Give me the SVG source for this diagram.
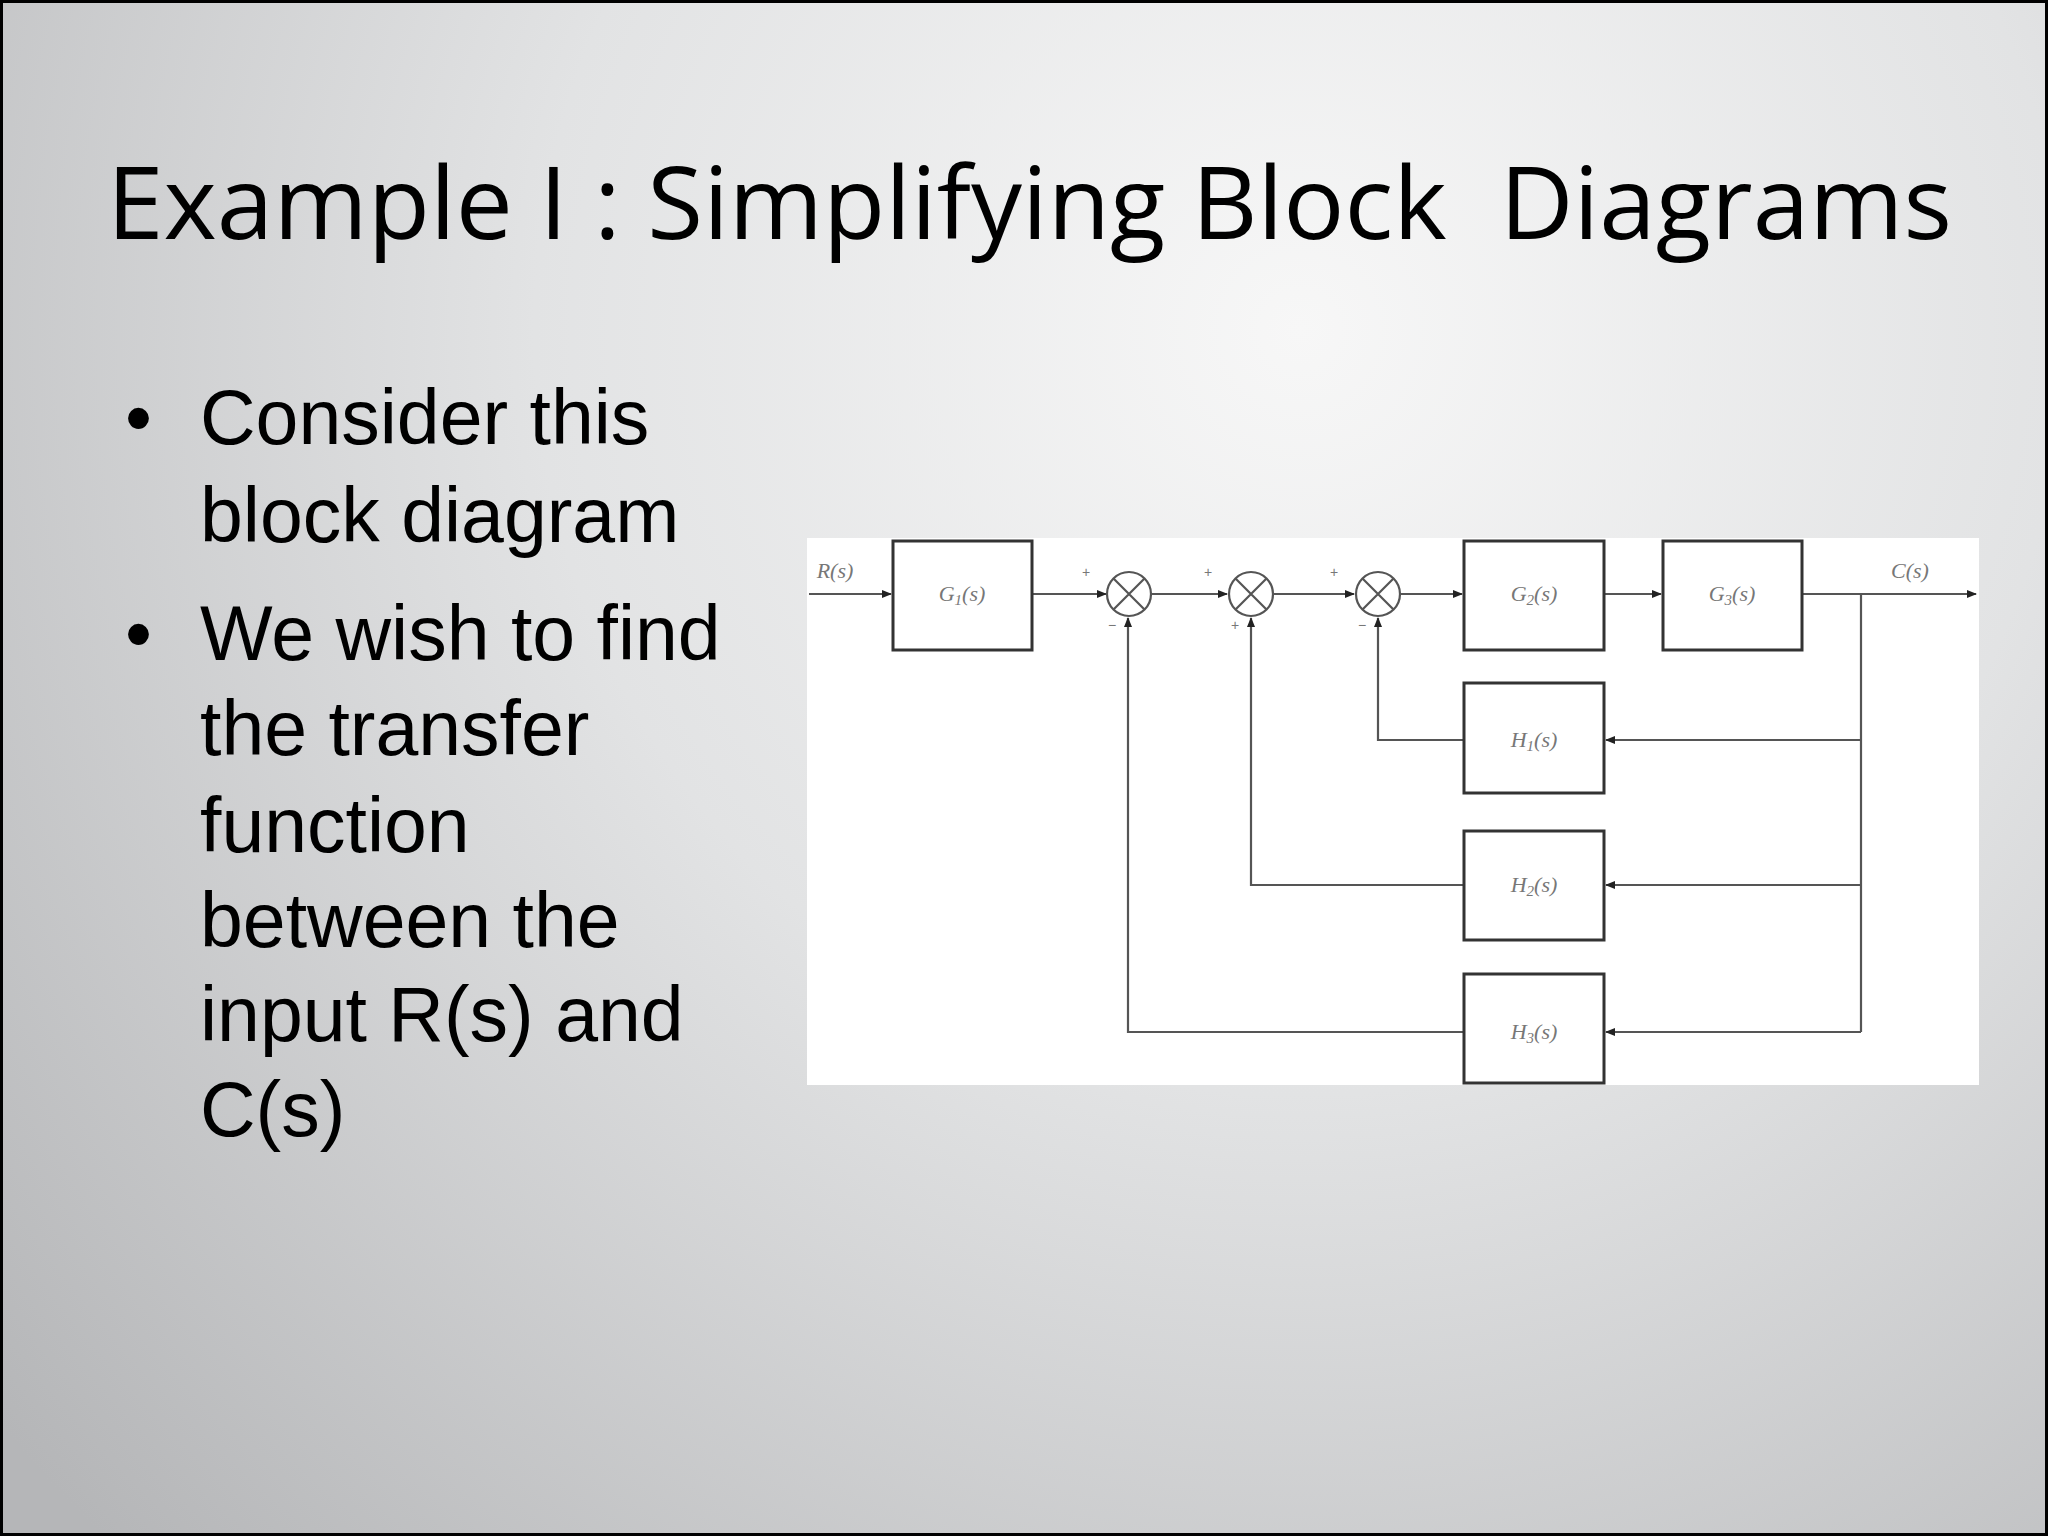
<svg xmlns="http://www.w3.org/2000/svg" width="2048" height="1536" viewBox="0 0 2048 1536">
<defs>
<radialGradient id="bg" cx="1300" cy="330" r="1700" gradientUnits="userSpaceOnUse">
<stop offset="0" stop-color="#f7f7f7"/><stop offset="0.45" stop-color="#e2e3e4"/><stop offset="1" stop-color="#b5b6b8"/>
</radialGradient>
<marker id="ah" viewBox="0 0 10 10" refX="9" refY="5" markerWidth="10" markerHeight="10" markerUnits="userSpaceOnUse" orient="auto"><path d="M0,1 L10,5 L0,9 z" fill="#222"/></marker>
<style>
.txt{font-family:"Liberation Sans",Arial,sans-serif;fill:#000}
.blk{fill:#fff;stroke:#333;stroke-width:3}
.ln{fill:none;stroke:#555;stroke-width:2.2}
.lbl{font-family:"Liberation Serif",serif;font-style:italic;font-size:22px;fill:#777;text-anchor:middle}
.sg{font-family:"Liberation Sans",sans-serif;font-size:14px;fill:#777}
</style>
</defs>
<rect x="0" y="0" width="2048" height="1536" fill="url(#bg)"/>
<rect x="1.5" y="1.5" width="2045" height="1533" fill="none" stroke="#000" stroke-width="3"/>
<text class="txt" x="107" y="239" font-size="100" textLength="1845" lengthAdjust="spacingAndGlyphs" style="font-family:'Open Sans',sans-serif" xml:space="preserve">Example I : Simplifying Block  Diagrams</text>
<g class="txt" font-size="77">
<text x="125" y="444">•</text>
<text x="200" y="444">Consider this</text>
<text x="200" y="542">block diagram</text>
<text x="125" y="660">•</text>
<text x="200" y="660">We wish to find</text>
<text x="200" y="755">the transfer</text>
<text x="200" y="852">function</text>
<text x="200" y="947">between the</text>
<text x="200" y="1041">input R(s) and</text>
<text x="200" y="1136">C(s)</text>
</g>
<rect x="807" y="538" width="1172" height="547" fill="#fff"/>
<g id="connectors">
<line class="ln" x1="809" y1="594" x2="891" y2="594" marker-end="url(#ah)"/>
<line class="ln" x1="1032" y1="594" x2="1106" y2="594" marker-end="url(#ah)"/>
<line class="ln" x1="1152" y1="594" x2="1227" y2="594" marker-end="url(#ah)"/>
<line class="ln" x1="1273" y1="594" x2="1354" y2="594" marker-end="url(#ah)"/>
<line class="ln" x1="1400" y1="594" x2="1462" y2="594" marker-end="url(#ah)"/>
<line class="ln" x1="1604" y1="594" x2="1661" y2="594" marker-end="url(#ah)"/>
<line class="ln" x1="1802" y1="594" x2="1976" y2="594" marker-end="url(#ah)"/>
<polyline class="ln" points="1861,594 1861,1032"/>
<line class="ln" x1="1861" y1="740" x2="1606" y2="740" marker-end="url(#ah)"/>
<line class="ln" x1="1861" y1="885" x2="1606" y2="885" marker-end="url(#ah)"/>
<line class="ln" x1="1861" y1="1032" x2="1606" y2="1032" marker-end="url(#ah)"/>
<polyline class="ln" points="1464,740 1378,740 1378,618" marker-end="url(#ah)"/>
<polyline class="ln" points="1464,885 1251,885 1251,618" marker-end="url(#ah)"/>
<polyline class="ln" points="1464,1032 1128,1032 1128,618" marker-end="url(#ah)"/>
</g>
<g id="G1"><rect class="blk" x="893" y="541" width="139" height="109"/><text class="lbl" x="962" y="601">G<tspan font-size="15" dy="4">1</tspan><tspan dy="-4">(s)</tspan></text></g>
<g id="S1"><circle class="ln" cx="1129" cy="594" r="22"/><path class="ln" d="M1113.5,578.5 L1144.5,609.5 M1144.5,578.5 L1113.5,609.5"/><text class="sg" x="1082" y="577">+</text><text class="sg" x="1108" y="630">−</text></g>
<g id="S2"><circle class="ln" cx="1251" cy="594" r="22"/><path class="ln" d="M1235.5,578.5 L1266.5,609.5 M1266.5,578.5 L1235.5,609.5"/><text class="sg" x="1204" y="577">+</text><text class="sg" x="1231" y="630">+</text></g>
<g id="S3"><circle class="ln" cx="1378" cy="594" r="22"/><path class="ln" d="M1362.5,578.5 L1393.5,609.5 M1393.5,578.5 L1362.5,609.5"/><text class="sg" x="1330" y="577">+</text><text class="sg" x="1358" y="630">−</text></g>
<g id="G2"><rect class="blk" x="1464" y="541" width="140" height="109"/><text class="lbl" x="1534" y="601">G<tspan font-size="15" dy="4">2</tspan><tspan dy="-4">(s)</tspan></text></g>
<g id="G3"><rect class="blk" x="1663" y="541" width="139" height="109"/><text class="lbl" x="1732" y="601">G<tspan font-size="15" dy="4">3</tspan><tspan dy="-4">(s)</tspan></text></g>
<g id="H1"><rect class="blk" x="1464" y="683" width="140" height="110"/><text class="lbl" x="1534" y="747">H<tspan font-size="15" dy="4">1</tspan><tspan dy="-4">(s)</tspan></text></g>
<g id="H2"><rect class="blk" x="1464" y="831" width="140" height="109"/><text class="lbl" x="1534" y="892">H<tspan font-size="15" dy="4">2</tspan><tspan dy="-4">(s)</tspan></text></g>
<g id="H3"><rect class="blk" x="1464" y="974" width="140" height="109"/><text class="lbl" x="1534" y="1039">H<tspan font-size="15" dy="4">3</tspan><tspan dy="-4">(s)</tspan></text></g>
<text class="lbl" x="835" y="578" fill="#555">R(s)</text>
<text class="lbl" x="1910" y="578">C(s)</text>
</svg>
